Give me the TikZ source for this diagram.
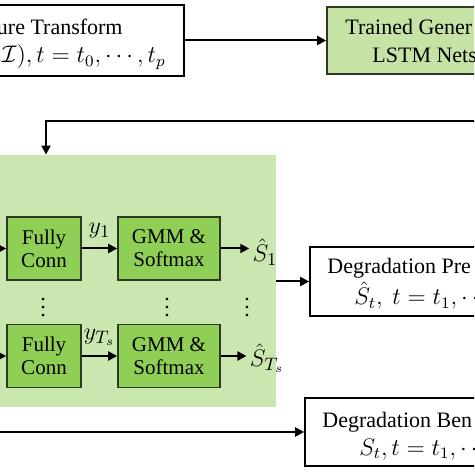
\documentclass[tikz,border=0pt]{standalone}
\usepackage{fontspec}
\setmainfont{Liberation Serif}
\usetikzlibrary{arrows.meta}
\definecolor{panelgreen}{RGB}{201,231,175}
\definecolor{cellgreen}{RGB}{143,207,85}
\definecolor{netgreen}{RGB}{197,227,165}
\definecolor{edgedark}{RGB}{45,58,35}
\newcommand\pxu{0.5pt}
\newcommand\cellfont{\fontsize{10.5}{11.5}\selectfont}
\newcommand\symfont{\fontsize{12.5}{14}\selectfont}

\begin{document}
\begin{tikzpicture}[x=0.5pt,y=-0.5pt,
    font=\fontsize{11}{14}\selectfont,
    conn/.style={-{Triangle[length=4.5pt,width=4.5pt]},line width=1pt},
    outbox/.style={draw=black,line width=0.8pt,fill=white,inner sep=0pt},
    cellbox/.style={draw=edgedark,line width=0.8pt,fill=cellgreen,inner sep=0pt,
      align=center,font=\cellfont,minimum width=74*\pxu,minimum height=63*\pxu},
    gmmbox/.style={cellbox,minimum width=102*\pxu},
    txt/.style={inner sep=0pt,anchor=base west},
    sym/.style={inner sep=1.5pt,font=\symfont}]
    \useasboundingbox (0,0) rectangle (474,474);
    \clip (0,0) rectangle (474,474);

    % top row
    \node[outbox,minimum width=204*\pxu,minimum height=71*\pxu] (feat) at (82,40.5) {};
    \node[txt,anchor=base east] (featline1) at (123,35) {ure Transform};
    \node[txt,anchor=base east,font=\fontsize{12}{14}\selectfont] (featline2) at (166,63) {$\mathcal{HI}),t=t_0,\cdots,t_p$};

    \node[draw=edgedark,line width=0.8pt,fill=netgreen,inner sep=0pt,
      minimum width=203*\pxu,minimum height=67*\pxu] (trained) at (428.5,40.5) {};
    \node[txt] (trainedline1) at (345,35) {Trained Gener};
    \node[txt] (trainedline2) at (372,63) {LSTM Nets};

    \draw[conn] (feat.east) -- (trained.west);

    % generator panel
    \node[fill=panelgreen,inner sep=0pt,minimum width=296*\pxu,minimum height=252*\pxu] (panel) at (128,281) {};

    \coordinate (fbright) at (480,121);
    \coordinate (fbleft) at (46,121);
    \draw[conn] (fbright) -- (fbleft) -- (fbleft |- panel.north);

    \node[cellbox] (fc1) at (44,248.5) {Fully\\Conn};
    \node[gmmbox] (gmm1) at (169,248.5) {GMM \&\\Softmax};
    \node[cellbox] (fc2) at (44,356) {Fully\\Conn};
    \node[gmmbox] (gmm2) at (169,356) {GMM \&\\Softmax};

    \node[sym] (s1) at (265,252) {$\hat{S}_1$};
    \node[sym] (s2) at (267,358) {$\hat{S}_{T_s}$};

    \node (dots1) at (43,302) {$\vdots$};
    \node (dots2) at (167,302) {$\vdots$};
    \node (dots3) at (247,302) {$\vdots$};

    \coordinate (in1) at (-5,248.5);
    \coordinate (in2) at (-5,356);
    \draw[conn] (in1) -- (fc1.west);
    \draw[conn] (in2) -- (fc2.west);
    \draw[conn] (fc1) -- node[sym,above=3pt] {$y_1$} (gmm1);
    \draw[conn] (fc2) -- node[sym,above=3pt] {$y_{T_s}$} (gmm2);
    \draw[conn] (gmm1.east) -- (gmm1.east -| s1.west);
    \draw[conn] (gmm2.east) -- (gmm2.east -| s2.west);

    % outputs
    \node[outbox,minimum width=220*\pxu,minimum height=69*\pxu] (pred) at (420,281.5) {};
    \node[txt] (predline1) at (327,274) {Degradation Pre};
    \node[txt,font=\fontsize{12}{14}\selectfont] (predline2) at (354,305) {$\hat{S}_t,\ t=t_1,\cdots$};
    \draw[conn] (panel.east |- pred.west) -- (pred.west);

    \node[outbox,minimum width=225*\pxu,minimum height=68*\pxu] (bench) at (417.5,432) {};
    \node[txt] (benchline1) at (322,427) {Degradation Ben};
    \node[txt,font=\fontsize{12}{14}\selectfont] (benchline2) at (359,455) {$S_t,t=t_1,\cdots$};
    \coordinate (benchin) at (-5,432);
    \draw[conn] (benchin) -- (bench.west);

\end{tikzpicture}
\end{document}
